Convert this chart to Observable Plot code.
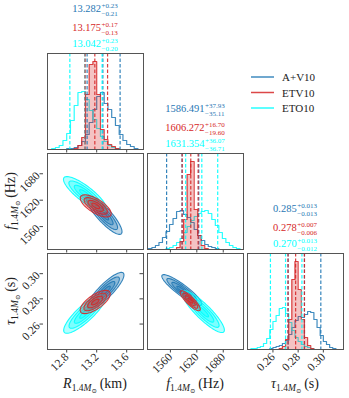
<!DOCTYPE html>
<html><head><meta charset="utf-8">
<script src="https://cdn.jsdelivr.net/npm/d3@7"></script>
<script src="https://cdn.jsdelivr.net/npm/@observablehq/plot@0.6"></script>
<style>
html,body{margin:0;padding:0;background:#fff;}
#chart{position:relative;width:349px;height:398px;overflow:hidden;background:#fff;}
#chart svg{position:absolute;}
</style></head><body><div id="chart"></div>
<script>
// ---------- data ----------
const seriesNames = ["A+V10", "ETV10", "ETO10"];
const seriesColors = ["#1f77b4", "#d62728", "#00ffff"];
const drawOrder = [0, 2, 1];

const R_median = [13.282, 13.175, 13.042];
const R_plus = [0.23, 0.17, 0.23];
const R_minus = [0.21, 0.13, 0.20];
const f_median = [1586.491, 1606.272, 1631.354];
const f_plus = [37.93, 16.70, 36.07];
const f_minus = [35.11, 19.60, 36.71];
const tau_median = [0.285, 0.278, 0.270];
const tau_plus = [0.013, 0.007, 0.013];
const tau_minus = [0.013, 0.006, 0.012];

const R_ticks = [12.8, 13.2, 13.6];
const R_tickLabels = ["12.8", "13.2", "13.6"];
const f_ticks = [1560, 1620, 1680];
const f_tickLabels = ["1560", "1620", "1680"];
const tau_ticks = [0.26, 0.28, 0.30];
const tau_tickLabels = ["0.26", "0.28", "0.30"];

const R_domain = [12.544, 13.824];
const f_domain = [1508, 1726];
const tau_domain = [0.2398, 0.3160];
const hist_domain = [0, 96];

// histograms (bin start per series, bin width, bin heights)
const R_binWidth = 0.05;
const R_binStart = [12.80, 12.90, 12.60];
const R_hist_AV10 = [1,1,2,4,8,15,27,40,53,57,46,40,32,24,15,9,5,3,1,0];
const R_hist_ETV10 = [1,4,12,55,85,88,55,20,10,5,3,1,0];
const R_hist_ETO10 = [1,2,4,9,16,29,44,57,58,50,39,30,21,13,8,4,2,1,0];

const f_binWidth = 8;
const f_binStart = [1510, 1574, 1550];
const f_hist_AV10 = [1,2,4,7,12,18,25,31,38,39,35,32,27,20,14,9,5,3,2,1,0];
const f_hist_ETV10 = [2,8,30,75,88,40,14,4,1,0];
const f_hist_ETO10 = [1,2,4,7,11,17,23,29,33,36,38,39,36,30,24,17,11,7,4,2,1,0];

const tau_binWidth = 0.0025;
const tau_binStart = [0.2575, 0.2650, 0.2425];
const tau_hist_AV10 = [1,2,3,4,6,9,15,22,29,33,32,35,38,37,30,22,14,8,5,2,1,0];
const tau_hist_ETV10 = [1,3,10,30,70,88,60,30,12,4,1,0];
const tau_hist_ETO10 = [1,1,2,3,6,11,20,28,34,41,42,36,27,19,12,8,5,3,2,1,0];

// 2D contour summaries (centre, spread, correlation) per pair
const RF_cx = [13.30, 13.187, 13.045];
const RF_cy = [1586, 1607, 1634];
const RF_sx = [0.198, 0.172, 0.24];
const RF_sy = [36.4, 21, 33];
const RF_rho = [-0.86, -0.70, -0.84];

const RT_cx = [13.32, 13.18, 13.044];
const RT_cy = [0.2865, 0.2775, 0.2685];
const RT_sx = [0.203, 0.167, 0.237];
const RT_sy = [0.0121, 0.0077, 0.0132];
const RT_rho = [0.86, 0.70, 0.85];

const FT_cx = [1586, 1605, 1634.6];
const FT_cy = [0.287, 0.2785, 0.2698];
const FT_sx = [37.9, 19, 40];
const FT_sy = [0.0102, 0.0066, 0.0138];
const FT_rho = [-0.90, -0.85, -0.88];

const contourRadii = [1.2, 0.9, 0.6, 0.3];

// ---------- layout ----------
const FONT = "'Liberation Serif', 'DejaVu Serif', serif";
const M = 40, S = 96;
const colX = [47, 147, 247], rowY = [53, 153, 253];
const chart = document.getElementById("chart");

function histPoints(start, width, heights) {
  const pts = [{x: start, y: 0}];
  heights.forEach((h, k) => pts.push({x: start + k * width, y: h}));
  pts.push({x: start + heights.length * width, y: 0});
  return pts;
}

function histMarks(binStart, binWidth, hists, med, plus, minus) {
  const marks = [];
  for (const i of drawOrder) {
    const pts = histPoints(binStart[i], binWidth, hists[i]);
    if (i === 1) marks.push(Plot.areaY(pts, {x: "x", y: "y", curve: "step-after", fill: seriesColors[i], fillOpacity: 0.28}));
    marks.push(Plot.line(pts, {x: "x", y: "y", curve: "step-after", stroke: seriesColors[i], strokeWidth: 1.2, strokeOpacity: 0.85}));
  }
  for (const i of drawOrder) {
    const q = [med[i] - minus[i], med[i], med[i] + plus[i]];
    marks.push(Plot.ruleX(q, {x: d => d, stroke: seriesColors[i], strokeWidth: 1.2, strokeOpacity: 0.9, strokeDasharray: "3.5,2"}));
  }
  return marks;
}

// nested probability contours of a correlated Gaussian summary
function ellipsePoints(cx, cy, sx, sy, rho) {
  const pts = [];
  const n = 96, c = Math.sqrt(1 - rho * rho);
  for (const r of contourRadii) {
    for (let k = 0; k < n; k++) {
      const t = (2 * Math.PI * k) / n;
      const u = Math.cos(t), v = Math.sin(t);
      pts.push({level: r, x: cx + r * sx * u, y: cy + r * sy * (rho * u + c * v)});
    }
  }
  return pts;
}

function contourMarks(cx, cy, sx, sy, rho) {
  return drawOrder.map(i => Plot.line(ellipsePoints(cx[i], cy[i], sx[i], sy[i], rho[i]), {
    x: "x", y: "y", z: "level", curve: "linear-closed",
    fill: seriesColors[i], fillOpacity: i === 1 ? 0.25 : 0.3,
    stroke: seriesColors[i], strokeWidth: 1.1, strokeOpacity: 0.9
  }));
}

function xAxis(ticks, labels, show) {
  return Plot.axisX(ticks, {tickSize: 3.5, tickPadding: 2, tickRotate: -45, stroke: "#444",
    tickFormat: d => show ? labels[ticks.indexOf(d)] : "", label: null, fontSize: 11.5, fill: "#222"});
}
function yAxis(ticks, labels, show) {
  return Plot.axisY(ticks, {tickSize: 3.5, tickPadding: 2, tickRotate: -45, stroke: "#444", dx: -4,
    tickFormat: d => show ? labels[ticks.indexOf(d)] : "", label: null, fontSize: 11.5, fill: "#222"});
}

function panel(col, row, xd, yd, marks) {
  const p = Plot.plot({
    width: S + 2 * M, height: S + 2 * M,
    marginTop: M, marginRight: M, marginBottom: M, marginLeft: M,
    x: {domain: xd, axis: null}, y: {domain: yd, axis: null},
    style: {background: "none", fontFamily: FONT, fontSize: "11.5px", color: "#222"},
    marks: [...marks, Plot.frame({stroke: "#555", strokeWidth: 1})]
  });
  p.style.left = (colX[col] - M) + "px";
  p.style.top = (rowY[row] - M) + "px";
  p.style.maxWidth = "none";
  chart.appendChild(p);
}

// R histogram
panel(0, 0, R_domain, hist_domain, [
  ...histMarks(R_binStart, R_binWidth, [R_hist_AV10, R_hist_ETV10, R_hist_ETO10], R_median, R_plus, R_minus),
  xAxis(R_ticks, R_tickLabels, false)
]);
// R vs f
panel(0, 1, R_domain, f_domain, [
  ...contourMarks(RF_cx, RF_cy, RF_sx, RF_sy, RF_rho),
  xAxis(R_ticks, R_tickLabels, false),
  yAxis(f_ticks, f_tickLabels, true)
]);
// R vs tau
panel(0, 2, R_domain, tau_domain, [
  ...contourMarks(RT_cx, RT_cy, RT_sx, RT_sy, RT_rho),
  xAxis(R_ticks, R_tickLabels, true),
  yAxis(tau_ticks, tau_tickLabels, true)
]);
// f histogram
panel(1, 1, f_domain, hist_domain, [
  ...histMarks(f_binStart, f_binWidth, [f_hist_AV10, f_hist_ETV10, f_hist_ETO10], f_median, f_plus, f_minus),
  xAxis(f_ticks, f_tickLabels, false)
]);
// f vs tau
panel(1, 2, f_domain, tau_domain, [
  ...contourMarks(FT_cx, FT_cy, FT_sx, FT_sy, FT_rho),
  xAxis(f_ticks, f_tickLabels, true),
  yAxis(tau_ticks, tau_tickLabels, false)
]);
// tau histogram
panel(2, 2, tau_domain, hist_domain, [
  ...histMarks(tau_binStart, tau_binWidth, [tau_hist_AV10, tau_hist_ETV10, tau_hist_ETO10], tau_median, tau_plus, tau_minus),
  xAxis(tau_ticks, tau_tickLabels, true)
]);

// ---------- text overlay ----------
const overlay = d3.select(chart).append("svg")
  .attr("width", 349).attr("height", 398)
  .style("left", "0px").style("top", "0px").style("pointer-events", "none")
  .attr("font-family", FONT);

function title(cx, baseline, main, plus, minus, color) {
  const g = overlay.append("g").attr("fill", color);
  const t = g.append("text").attr("y", baseline).attr("font-size", 10.5).text(main);
  const sp = g.append("text").attr("y", baseline - 4.5).attr("font-size", 7).text("+" + plus);
  const sb = g.append("text").attr("y", baseline + 3.5).attr("font-size", 7).text("\u2212" + minus);
  const w1 = t.node().getComputedTextLength();
  const w2 = Math.max(sp.node().getComputedTextLength(), sb.node().getComputedTextLength());
  const x0 = cx - (w1 + 0.5 + w2) / 2;
  t.attr("x", x0); sp.attr("x", x0 + w1 + 0.5); sb.attr("x", x0 + w1 + 0.5);
}
const titleOffsets = [-41, -22, -6];
const blocks = [
  {col: 0, row: 0, med: R_median, plus: R_plus, minus: R_minus, dm: 3, dp: 2},
  {col: 1, row: 1, med: f_median, plus: f_plus, minus: f_minus, dm: 3, dp: 2},
  {col: 2, row: 2, med: tau_median, plus: tau_plus, minus: tau_minus, dm: 3, dp: 3}
];
for (const b of blocks) {
  for (let i = 0; i < 3; i++) {
    title(colX[b.col] + S / 2, rowY[b.row] + titleOffsets[i],
      b.med[i].toFixed(b.dm), b.plus[i].toFixed(b.dp), b.minus[i].toFixed(b.dp), seriesColors[i]);
  }
}

// axis labels
function varLabel(x, y, sym, unit, rotate) {
  const t = overlay.append("text").attr("x", x).attr("y", y).attr("text-anchor", "middle")
    .attr("font-size", 14).attr("fill", "#222");
  if (rotate) t.attr("transform", `rotate(-90,${x},${y})`);
  t.append("tspan").attr("font-style", "italic").text(sym);
  t.append("tspan").attr("font-size", 9.5).attr("dy", 3).text("1.4");
  t.append("tspan").attr("font-size", 9.5).attr("font-style", "italic").text("M");
  t.append("tspan").attr("font-size", 6.5).attr("dy", 1.5).text("\u2299");
  t.append("tspan").attr("dy", -4.5).text("\u2009(" + unit + ")");
}
varLabel(colX[0] + S / 2, 388, "R", "km", false);
varLabel(colX[1] + S / 2, 388, "f", "Hz", false);
varLabel(colX[2] + S / 2, 388, "\u03C4", "s", false);
varLabel(15, rowY[1] + S / 2, "f", "Hz", true);
varLabel(15, rowY[2] + S / 2, "\u03C4", "s", true);

// legend
const legendY = [77, 92.5, 108];
seriesNames.forEach((name, i) => {
  overlay.append("line").attr("x1", 251).attr("x2", 274).attr("y1", legendY[i]).attr("y2", legendY[i])
    .attr("stroke", seriesColors[i]).attr("stroke-width", 1.5).attr("stroke-opacity", 0.85);
  overlay.append("text").attr("x", 282).attr("y", legendY[i] + 4).attr("font-size", 11)
    .attr("fill", "#222").text(name);
});
</script></body></html>
